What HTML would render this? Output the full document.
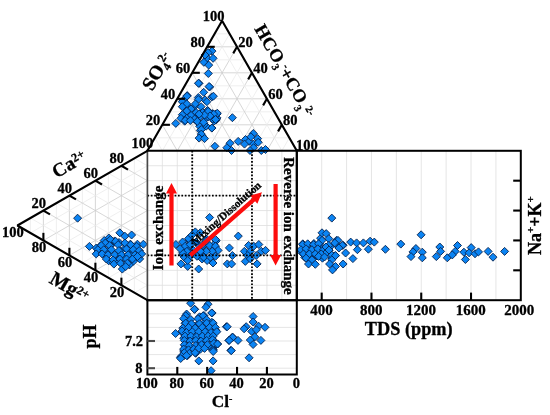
<!DOCTYPE html>
<html lang="en">
<head>
<meta charset="utf-8">
<title>Durov diagram</title>
<style>
html,body{margin:0;padding:0;background:#fff;}
body{width:550px;height:415px;overflow:hidden;}
svg{display:block;}
svg text{font-family:"Liberation Serif","Times New Roman",serif;font-weight:bold;fill:#000;stroke:#000;stroke-width:0.3px;}
</style>
</head>
<body>
<svg width="550" height="415" viewBox="0 0 550 415">
<rect x="0" y="0" width="550" height="415" fill="#fff"/>
<g id="grid">
<line x1="162.34" y1="150.80" x2="162.34" y2="300.20" stroke="#dedede" stroke-width="0.8" />
<line x1="147.40" y1="165.74" x2="296.80" y2="165.74" stroke="#dedede" stroke-width="0.8" />
<line x1="177.28" y1="150.80" x2="177.28" y2="300.20" stroke="#dedede" stroke-width="0.8" />
<line x1="147.40" y1="180.68" x2="296.80" y2="180.68" stroke="#dedede" stroke-width="0.8" />
<line x1="192.22" y1="150.80" x2="192.22" y2="300.20" stroke="#dedede" stroke-width="0.8" />
<line x1="147.40" y1="195.62" x2="296.80" y2="195.62" stroke="#dedede" stroke-width="0.8" />
<line x1="207.16" y1="150.80" x2="207.16" y2="300.20" stroke="#dedede" stroke-width="0.8" />
<line x1="147.40" y1="210.56" x2="296.80" y2="210.56" stroke="#dedede" stroke-width="0.8" />
<line x1="222.10" y1="150.80" x2="222.10" y2="300.20" stroke="#dedede" stroke-width="0.8" />
<line x1="147.40" y1="225.50" x2="296.80" y2="225.50" stroke="#dedede" stroke-width="0.8" />
<line x1="237.04" y1="150.80" x2="237.04" y2="300.20" stroke="#dedede" stroke-width="0.8" />
<line x1="147.40" y1="240.44" x2="296.80" y2="240.44" stroke="#dedede" stroke-width="0.8" />
<line x1="251.98" y1="150.80" x2="251.98" y2="300.20" stroke="#dedede" stroke-width="0.8" />
<line x1="147.40" y1="255.38" x2="296.80" y2="255.38" stroke="#dedede" stroke-width="0.8" />
<line x1="266.92" y1="150.80" x2="266.92" y2="300.20" stroke="#dedede" stroke-width="0.8" />
<line x1="147.40" y1="270.32" x2="296.80" y2="270.32" stroke="#dedede" stroke-width="0.8" />
<line x1="281.86" y1="150.80" x2="281.86" y2="300.20" stroke="#dedede" stroke-width="0.8" />
<line x1="147.40" y1="285.26" x2="296.80" y2="285.26" stroke="#dedede" stroke-width="0.8" />
<line x1="321.69" y1="150.80" x2="321.69" y2="300.20" stroke="#dedede" stroke-width="0.8" />
<line x1="346.58" y1="150.80" x2="346.58" y2="300.20" stroke="#dedede" stroke-width="0.8" />
<line x1="371.47" y1="150.80" x2="371.47" y2="300.20" stroke="#dedede" stroke-width="0.8" />
<line x1="396.36" y1="150.80" x2="396.36" y2="300.20" stroke="#dedede" stroke-width="0.8" />
<line x1="421.24" y1="150.80" x2="421.24" y2="300.20" stroke="#dedede" stroke-width="0.8" />
<line x1="446.13" y1="150.80" x2="446.13" y2="300.20" stroke="#dedede" stroke-width="0.8" />
<line x1="471.02" y1="150.80" x2="471.02" y2="300.20" stroke="#dedede" stroke-width="0.8" />
<line x1="495.91" y1="150.80" x2="495.91" y2="300.20" stroke="#dedede" stroke-width="0.8" />
<line x1="147.40" y1="313.80" x2="296.80" y2="313.80" stroke="#dedede" stroke-width="0.8" />
<line x1="147.40" y1="327.40" x2="296.80" y2="327.40" stroke="#dedede" stroke-width="0.8" />
<line x1="147.40" y1="341.00" x2="296.80" y2="341.00" stroke="#dedede" stroke-width="0.8" />
<line x1="147.40" y1="354.60" x2="296.80" y2="354.60" stroke="#dedede" stroke-width="0.8" />
<line x1="147.40" y1="368.20" x2="296.80" y2="368.20" stroke="#dedede" stroke-width="0.8" />
<line x1="154.87" y1="137.80" x2="289.33" y2="137.80" stroke="#ebebeb" stroke-width="0.8" />
<line x1="162.34" y1="150.80" x2="229.57" y2="33.80" stroke="#ebebeb" stroke-width="0.8" />
<line x1="162.34" y1="150.80" x2="154.87" y2="137.80" stroke="#ebebeb" stroke-width="0.8" />
<line x1="162.34" y1="124.80" x2="281.86" y2="124.80" stroke="#cdcdcd" stroke-width="0.8" />
<line x1="177.28" y1="150.80" x2="237.04" y2="46.80" stroke="#cdcdcd" stroke-width="0.8" />
<line x1="177.28" y1="150.80" x2="162.34" y2="124.80" stroke="#cdcdcd" stroke-width="0.8" />
<line x1="169.81" y1="111.80" x2="274.39" y2="111.80" stroke="#ebebeb" stroke-width="0.8" />
<line x1="192.22" y1="150.80" x2="244.51" y2="59.80" stroke="#ebebeb" stroke-width="0.8" />
<line x1="192.22" y1="150.80" x2="169.81" y2="111.80" stroke="#ebebeb" stroke-width="0.8" />
<line x1="177.28" y1="98.80" x2="266.92" y2="98.80" stroke="#cdcdcd" stroke-width="0.8" />
<line x1="207.16" y1="150.80" x2="251.98" y2="72.80" stroke="#cdcdcd" stroke-width="0.8" />
<line x1="207.16" y1="150.80" x2="177.28" y2="98.80" stroke="#cdcdcd" stroke-width="0.8" />
<line x1="184.75" y1="85.80" x2="259.45" y2="85.80" stroke="#ebebeb" stroke-width="0.8" />
<line x1="222.10" y1="150.80" x2="259.45" y2="85.80" stroke="#ebebeb" stroke-width="0.8" />
<line x1="222.10" y1="150.80" x2="184.75" y2="85.80" stroke="#ebebeb" stroke-width="0.8" />
<line x1="192.22" y1="72.80" x2="251.98" y2="72.80" stroke="#cdcdcd" stroke-width="0.8" />
<line x1="237.04" y1="150.80" x2="266.92" y2="98.80" stroke="#cdcdcd" stroke-width="0.8" />
<line x1="237.04" y1="150.80" x2="192.22" y2="72.80" stroke="#cdcdcd" stroke-width="0.8" />
<line x1="199.69" y1="59.80" x2="244.51" y2="59.80" stroke="#ebebeb" stroke-width="0.8" />
<line x1="251.98" y1="150.80" x2="274.39" y2="111.80" stroke="#ebebeb" stroke-width="0.8" />
<line x1="251.98" y1="150.80" x2="199.69" y2="59.80" stroke="#ebebeb" stroke-width="0.8" />
<line x1="207.16" y1="46.80" x2="237.04" y2="46.80" stroke="#cdcdcd" stroke-width="0.8" />
<line x1="266.92" y1="150.80" x2="281.86" y2="124.80" stroke="#cdcdcd" stroke-width="0.8" />
<line x1="266.92" y1="150.80" x2="207.16" y2="46.80" stroke="#cdcdcd" stroke-width="0.8" />
<line x1="214.63" y1="33.80" x2="229.57" y2="33.80" stroke="#ebebeb" stroke-width="0.8" />
<line x1="281.86" y1="150.80" x2="289.33" y2="137.80" stroke="#ebebeb" stroke-width="0.8" />
<line x1="281.86" y1="150.80" x2="214.63" y2="33.80" stroke="#ebebeb" stroke-width="0.8" />
<line x1="134.40" y1="158.27" x2="134.40" y2="292.73" stroke="#ebebeb" stroke-width="0.8" />
<line x1="147.40" y1="165.74" x2="30.40" y2="232.97" stroke="#ebebeb" stroke-width="0.8" />
<line x1="147.40" y1="165.74" x2="134.40" y2="158.27" stroke="#ebebeb" stroke-width="0.8" />
<line x1="121.40" y1="165.74" x2="121.40" y2="285.26" stroke="#cdcdcd" stroke-width="0.8" />
<line x1="147.40" y1="180.68" x2="43.40" y2="240.44" stroke="#cdcdcd" stroke-width="0.8" />
<line x1="147.40" y1="180.68" x2="121.40" y2="165.74" stroke="#cdcdcd" stroke-width="0.8" />
<line x1="108.40" y1="173.21" x2="108.40" y2="277.79" stroke="#ebebeb" stroke-width="0.8" />
<line x1="147.40" y1="195.62" x2="56.40" y2="247.91" stroke="#ebebeb" stroke-width="0.8" />
<line x1="147.40" y1="195.62" x2="108.40" y2="173.21" stroke="#ebebeb" stroke-width="0.8" />
<line x1="95.40" y1="180.68" x2="95.40" y2="270.32" stroke="#cdcdcd" stroke-width="0.8" />
<line x1="147.40" y1="210.56" x2="69.40" y2="255.38" stroke="#cdcdcd" stroke-width="0.8" />
<line x1="147.40" y1="210.56" x2="95.40" y2="180.68" stroke="#cdcdcd" stroke-width="0.8" />
<line x1="82.40" y1="188.15" x2="82.40" y2="262.85" stroke="#ebebeb" stroke-width="0.8" />
<line x1="147.40" y1="225.50" x2="82.40" y2="262.85" stroke="#ebebeb" stroke-width="0.8" />
<line x1="147.40" y1="225.50" x2="82.40" y2="188.15" stroke="#ebebeb" stroke-width="0.8" />
<line x1="69.40" y1="195.62" x2="69.40" y2="255.38" stroke="#cdcdcd" stroke-width="0.8" />
<line x1="147.40" y1="240.44" x2="95.40" y2="270.32" stroke="#cdcdcd" stroke-width="0.8" />
<line x1="147.40" y1="240.44" x2="69.40" y2="195.62" stroke="#cdcdcd" stroke-width="0.8" />
<line x1="56.40" y1="203.09" x2="56.40" y2="247.91" stroke="#ebebeb" stroke-width="0.8" />
<line x1="147.40" y1="255.38" x2="108.40" y2="277.79" stroke="#ebebeb" stroke-width="0.8" />
<line x1="147.40" y1="255.38" x2="56.40" y2="203.09" stroke="#ebebeb" stroke-width="0.8" />
<line x1="43.40" y1="210.56" x2="43.40" y2="240.44" stroke="#cdcdcd" stroke-width="0.8" />
<line x1="147.40" y1="270.32" x2="121.40" y2="285.26" stroke="#cdcdcd" stroke-width="0.8" />
<line x1="147.40" y1="270.32" x2="43.40" y2="210.56" stroke="#cdcdcd" stroke-width="0.8" />
<line x1="30.40" y1="218.03" x2="30.40" y2="232.97" stroke="#ebebeb" stroke-width="0.8" />
<line x1="147.40" y1="285.26" x2="134.40" y2="292.73" stroke="#ebebeb" stroke-width="0.8" />
<line x1="147.40" y1="285.26" x2="30.40" y2="218.03" stroke="#ebebeb" stroke-width="0.8" />
</g>
<g id="points" fill="#0b84f3" stroke="#06224f" stroke-width="0.9" stroke-linejoin="miter">
<g id="pts-top">
<path d="M211.9 92.9l4.0 4.0l-4.0 4.0l-4.0 -4.0z"/>
<path d="M187.2 91.6l4.0 4.0l-4.0 4.0l-4.0 -4.0z"/>
<path d="M198.3 93.5l4.0 4.0l-4.0 4.0l-4.0 -4.0z"/>
<path d="M205.0 95.9l4.0 4.0l-4.0 4.0l-4.0 -4.0z"/>
<path d="M183.7 96.0l4.0 4.0l-4.0 4.0l-4.0 -4.0z"/>
<path d="M187.3 101.9l4.0 4.0l-4.0 4.0l-4.0 -4.0z"/>
<path d="M194.9 102.0l4.0 4.0l-4.0 4.0l-4.0 -4.0z"/>
<path d="M183.9 101.8l4.0 4.0l-4.0 4.0l-4.0 -4.0z"/>
<path d="M189.3 104.1l4.0 4.0l-4.0 4.0l-4.0 -4.0z"/>
<path d="M208.0 107.0l4.0 4.0l-4.0 4.0l-4.0 -4.0z"/>
<path d="M186.9 105.2l4.0 4.0l-4.0 4.0l-4.0 -4.0z"/>
<path d="M194.8 109.3l4.0 4.0l-4.0 4.0l-4.0 -4.0z"/>
<path d="M201.8 108.9l4.0 4.0l-4.0 4.0l-4.0 -4.0z"/>
<path d="M211.8 111.3l4.0 4.0l-4.0 4.0l-4.0 -4.0z"/>
<path d="M215.9 110.3l4.0 4.0l-4.0 4.0l-4.0 -4.0z"/>
<path d="M184.0 111.7l4.0 4.0l-4.0 4.0l-4.0 -4.0z"/>
<path d="M193.1 109.7l4.0 4.0l-4.0 4.0l-4.0 -4.0z"/>
<path d="M200.8 111.4l4.0 4.0l-4.0 4.0l-4.0 -4.0z"/>
<path d="M206.4 113.6l4.0 4.0l-4.0 4.0l-4.0 -4.0z"/>
<path d="M188.4 113.5l4.0 4.0l-4.0 4.0l-4.0 -4.0z"/>
<path d="M195.0 115.4l4.0 4.0l-4.0 4.0l-4.0 -4.0z"/>
<path d="M214.2 117.0l4.0 4.0l-4.0 4.0l-4.0 -4.0z"/>
<path d="M217.0 113.9l4.0 4.0l-4.0 4.0l-4.0 -4.0z"/>
<path d="M206.2 122.2l4.0 4.0l-4.0 4.0l-4.0 -4.0z"/>
<path d="M184.7 117.2l4.0 4.0l-4.0 4.0l-4.0 -4.0z"/>
<path d="M190.1 115.0l4.0 4.0l-4.0 4.0l-4.0 -4.0z"/>
<path d="M215.4 110.4l4.0 4.0l-4.0 4.0l-4.0 -4.0z"/>
<path d="M212.5 109.6l4.0 4.0l-4.0 4.0l-4.0 -4.0z"/>
<path d="M209.8 112.1l4.0 4.0l-4.0 4.0l-4.0 -4.0z"/>
<path d="M196.9 116.8l4.0 4.0l-4.0 4.0l-4.0 -4.0z"/>
<path d="M212.0 47.1l4.0 4.0l-4.0 4.0l-4.0 -4.0z"/>
<path d="M208.1 48.7l4.0 4.0l-4.0 4.0l-4.0 -4.0z"/>
<path d="M206.9 54.1l4.0 4.0l-4.0 4.0l-4.0 -4.0z"/>
<path d="M213.1 54.3l4.0 4.0l-4.0 4.0l-4.0 -4.0z"/>
<path d="M203.9 58.3l4.0 4.0l-4.0 4.0l-4.0 -4.0z"/>
<path d="M208.7 61.1l4.0 4.0l-4.0 4.0l-4.0 -4.0z"/>
<path d="M205.0 51.0l4.0 4.0l-4.0 4.0l-4.0 -4.0z"/>
<path d="M208.3 69.5l4.0 4.0l-4.0 4.0l-4.0 -4.0z"/>
<path d="M199.0 79.4l4.0 4.0l-4.0 4.0l-4.0 -4.0z"/>
<path d="M209.6 83.0l4.0 4.0l-4.0 4.0l-4.0 -4.0z"/>
<path d="M198.5 79.2l4.0 4.0l-4.0 4.0l-4.0 -4.0z"/>
<path d="M209.1 82.5l4.0 4.0l-4.0 4.0l-4.0 -4.0z"/>
<path d="M203.7 88.3l4.0 4.0l-4.0 4.0l-4.0 -4.0z"/>
<path d="M213.4 92.2l4.0 4.0l-4.0 4.0l-4.0 -4.0z"/>
<path d="M187.0 92.2l4.0 4.0l-4.0 4.0l-4.0 -4.0z"/>
<path d="M198.3 95.5l4.0 4.0l-4.0 4.0l-4.0 -4.0z"/>
<path d="M206.9 97.7l4.0 4.0l-4.0 4.0l-4.0 -4.0z"/>
<path d="M182.3 97.7l4.0 4.0l-4.0 4.0l-4.0 -4.0z"/>
<path d="M186.7 99.9l4.0 4.0l-4.0 4.0l-4.0 -4.0z"/>
<path d="M195.4 99.9l4.0 4.0l-4.0 4.0l-4.0 -4.0z"/>
<path d="M182.3 102.7l4.0 4.0l-4.0 4.0l-4.0 -4.0z"/>
<path d="M191.0 104.9l4.0 4.0l-4.0 4.0l-4.0 -4.0z"/>
<path d="M201.1 102.7l4.0 4.0l-4.0 4.0l-4.0 -4.0z"/>
<path d="M207.6 106.4l4.0 4.0l-4.0 4.0l-4.0 -4.0z"/>
<path d="M186.7 107.1l4.0 4.0l-4.0 4.0l-4.0 -4.0z"/>
<path d="M196.1 108.5l4.0 4.0l-4.0 4.0l-4.0 -4.0z"/>
<path d="M202.6 108.5l4.0 4.0l-4.0 4.0l-4.0 -4.0z"/>
<path d="M212.7 110.0l4.0 4.0l-4.0 4.0l-4.0 -4.0z"/>
<path d="M217.0 110.0l4.0 4.0l-4.0 4.0l-4.0 -4.0z"/>
<path d="M182.3 110.7l4.0 4.0l-4.0 4.0l-4.0 -4.0z"/>
<path d="M191.0 111.4l4.0 4.0l-4.0 4.0l-4.0 -4.0z"/>
<path d="M199.7 112.9l4.0 4.0l-4.0 4.0l-4.0 -4.0z"/>
<path d="M208.4 112.9l4.0 4.0l-4.0 4.0l-4.0 -4.0z"/>
<path d="M180.9 114.3l4.0 4.0l-4.0 4.0l-4.0 -4.0z"/>
<path d="M186.7 114.3l4.0 4.0l-4.0 4.0l-4.0 -4.0z"/>
<path d="M194.6 115.0l4.0 4.0l-4.0 4.0l-4.0 -4.0z"/>
<path d="M212.7 115.0l4.0 4.0l-4.0 4.0l-4.0 -4.0z"/>
<path d="M216.3 115.8l4.0 4.0l-4.0 4.0l-4.0 -4.0z"/>
<path d="M175.8 119.4l4.0 4.0l-4.0 4.0l-4.0 -4.0z"/>
<path d="M197.5 117.9l4.0 4.0l-4.0 4.0l-4.0 -4.0z"/>
<path d="M204.0 120.8l4.0 4.0l-4.0 4.0l-4.0 -4.0z"/>
<path d="M199.7 122.3l4.0 4.0l-4.0 4.0l-4.0 -4.0z"/>
<path d="M212.0 124.0l4.0 4.0l-4.0 4.0l-4.0 -4.0z"/>
<path d="M200.4 126.6l4.0 4.0l-4.0 4.0l-4.0 -4.0z"/>
<path d="M201.9 131.7l4.0 4.0l-4.0 4.0l-4.0 -4.0z"/>
<path d="M185.2 116.5l4.0 4.0l-4.0 4.0l-4.0 -4.0z"/>
<path d="M190.3 116.5l4.0 4.0l-4.0 4.0l-4.0 -4.0z"/>
<path d="M232.4 113.7l4.0 4.0l-4.0 4.0l-4.0 -4.0z"/>
<path d="M211.8 124.1l4.0 4.0l-4.0 4.0l-4.0 -4.0z"/>
<path d="M201.3 125.5l4.0 4.0l-4.0 4.0l-4.0 -4.0z"/>
<path d="M201.3 130.1l4.0 4.0l-4.0 4.0l-4.0 -4.0z"/>
<path d="M199.1 134.1l4.0 4.0l-4.0 4.0l-4.0 -4.0z"/>
<path d="M204.5 134.6l4.0 4.0l-4.0 4.0l-4.0 -4.0z"/>
<path d="M214.9 142.3l4.0 4.0l-4.0 4.0l-4.0 -4.0z"/>
<path d="M230.0 139.2l4.0 4.0l-4.0 4.0l-4.0 -4.0z"/>
<path d="M226.9 143.7l4.0 4.0l-4.0 4.0l-4.0 -4.0z"/>
<path d="M231.5 146.5l4.0 4.0l-4.0 4.0l-4.0 -4.0z"/>
<path d="M238.2 137.4l4.0 4.0l-4.0 4.0l-4.0 -4.0z"/>
<path d="M245.5 135.5l4.0 4.0l-4.0 4.0l-4.0 -4.0z"/>
<path d="M249.1 137.4l4.0 4.0l-4.0 4.0l-4.0 -4.0z"/>
<path d="M244.5 140.1l4.0 4.0l-4.0 4.0l-4.0 -4.0z"/>
<path d="M253.3 129.5l4.0 4.0l-4.0 4.0l-4.0 -4.0z"/>
<path d="M250.9 132.8l4.0 4.0l-4.0 4.0l-4.0 -4.0z"/>
<path d="M257.6 134.6l4.0 4.0l-4.0 4.0l-4.0 -4.0z"/>
<path d="M253.6 140.1l4.0 4.0l-4.0 4.0l-4.0 -4.0z"/>
<path d="M258.2 138.3l4.0 4.0l-4.0 4.0l-4.0 -4.0z"/>
<path d="M253.6 143.7l4.0 4.0l-4.0 4.0l-4.0 -4.0z"/>
<path d="M250.0 146.5l4.0 4.0l-4.0 4.0l-4.0 -4.0z"/>
<path d="M261.3 146.5l4.0 4.0l-4.0 4.0l-4.0 -4.0z"/>
<path d="M265.5 145.5l4.0 4.0l-4.0 4.0l-4.0 -4.0z"/>
<path d="M217.3 109.2l4.0 4.0l-4.0 4.0l-4.0 -4.0z"/>
<path d="M213.6 110.1l4.0 4.0l-4.0 4.0l-4.0 -4.0z"/>
<path d="M208.2 107.4l4.0 4.0l-4.0 4.0l-4.0 -4.0z"/>
<path d="M210.0 111.9l4.0 4.0l-4.0 4.0l-4.0 -4.0z"/>
<path d="M215.5 115.5l4.0 4.0l-4.0 4.0l-4.0 -4.0z"/>
<path d="M204.5 111.0l4.0 4.0l-4.0 4.0l-4.0 -4.0z"/>
<path d="M199.1 110.1l4.0 4.0l-4.0 4.0l-4.0 -4.0z"/>
<path d="M197.3 117.4l4.0 4.0l-4.0 4.0l-4.0 -4.0z"/>
<path d="M203.6 118.3l4.0 4.0l-4.0 4.0l-4.0 -4.0z"/>
</g>
<g id="pts-left">
<path d="M108.8 234.0l4.0 4.0l-4.0 4.0l-4.0 -4.0z"/>
<path d="M114.3 237.2l4.0 4.0l-4.0 4.0l-4.0 -4.0z"/>
<path d="M104.2 236.5l4.0 4.0l-4.0 4.0l-4.0 -4.0z"/>
<path d="M100.5 241.8l4.0 4.0l-4.0 4.0l-4.0 -4.0z"/>
<path d="M110.7 241.6l4.0 4.0l-4.0 4.0l-4.0 -4.0z"/>
<path d="M119.0 238.5l4.0 4.0l-4.0 4.0l-4.0 -4.0z"/>
<path d="M126.3 240.9l4.0 4.0l-4.0 4.0l-4.0 -4.0z"/>
<path d="M130.3 240.2l4.0 4.0l-4.0 4.0l-4.0 -4.0z"/>
<path d="M137.4 240.2l4.0 4.0l-4.0 4.0l-4.0 -4.0z"/>
<path d="M96.3 244.0l4.0 4.0l-4.0 4.0l-4.0 -4.0z"/>
<path d="M101.6 243.2l4.0 4.0l-4.0 4.0l-4.0 -4.0z"/>
<path d="M109.4 245.0l4.0 4.0l-4.0 4.0l-4.0 -4.0z"/>
<path d="M120.8 247.2l4.0 4.0l-4.0 4.0l-4.0 -4.0z"/>
<path d="M125.3 244.1l4.0 4.0l-4.0 4.0l-4.0 -4.0z"/>
<path d="M131.4 247.4l4.0 4.0l-4.0 4.0l-4.0 -4.0z"/>
<path d="M139.0 246.5l4.0 4.0l-4.0 4.0l-4.0 -4.0z"/>
<path d="M139.7 249.1l4.0 4.0l-4.0 4.0l-4.0 -4.0z"/>
<path d="M97.8 248.2l4.0 4.0l-4.0 4.0l-4.0 -4.0z"/>
<path d="M104.4 250.0l4.0 4.0l-4.0 4.0l-4.0 -4.0z"/>
<path d="M108.2 248.4l4.0 4.0l-4.0 4.0l-4.0 -4.0z"/>
<path d="M117.1 252.6l4.0 4.0l-4.0 4.0l-4.0 -4.0z"/>
<path d="M120.3 250.1l4.0 4.0l-4.0 4.0l-4.0 -4.0z"/>
<path d="M129.6 251.0l4.0 4.0l-4.0 4.0l-4.0 -4.0z"/>
<path d="M134.1 249.4l4.0 4.0l-4.0 4.0l-4.0 -4.0z"/>
<path d="M108.7 256.8l4.0 4.0l-4.0 4.0l-4.0 -4.0z"/>
<path d="M114.6 257.1l4.0 4.0l-4.0 4.0l-4.0 -4.0z"/>
<path d="M119.9 254.3l4.0 4.0l-4.0 4.0l-4.0 -4.0z"/>
<path d="M124.1 253.9l4.0 4.0l-4.0 4.0l-4.0 -4.0z"/>
<path d="M133.4 257.3l4.0 4.0l-4.0 4.0l-4.0 -4.0z"/>
<path d="M139.7 254.9l4.0 4.0l-4.0 4.0l-4.0 -4.0z"/>
<path d="M113.2 258.7l4.0 4.0l-4.0 4.0l-4.0 -4.0z"/>
<path d="M119.1 257.7l4.0 4.0l-4.0 4.0l-4.0 -4.0z"/>
<path d="M129.4 260.9l4.0 4.0l-4.0 4.0l-4.0 -4.0z"/>
<path d="M77.6 214.2l4.0 4.0l-4.0 4.0l-4.0 -4.0z"/>
<path d="M89.4 242.4l4.0 4.0l-4.0 4.0l-4.0 -4.0z"/>
<path d="M119.8 228.8l4.0 4.0l-4.0 4.0l-4.0 -4.0z"/>
<path d="M124.9 232.2l4.0 4.0l-4.0 4.0l-4.0 -4.0z"/>
<path d="M131.6 231.0l4.0 4.0l-4.0 4.0l-4.0 -4.0z"/>
<path d="M143.4 240.2l4.0 4.0l-4.0 4.0l-4.0 -4.0z"/>
<path d="M110.5 235.6l4.0 4.0l-4.0 4.0l-4.0 -4.0z"/>
<path d="M115.6 237.3l4.0 4.0l-4.0 4.0l-4.0 -4.0z"/>
<path d="M105.4 239.0l4.0 4.0l-4.0 4.0l-4.0 -4.0z"/>
<path d="M101.2 241.5l4.0 4.0l-4.0 4.0l-4.0 -4.0z"/>
<path d="M109.7 241.5l4.0 4.0l-4.0 4.0l-4.0 -4.0z"/>
<path d="M118.1 240.7l4.0 4.0l-4.0 4.0l-4.0 -4.0z"/>
<path d="M124.9 239.0l4.0 4.0l-4.0 4.0l-4.0 -4.0z"/>
<path d="M130.8 240.7l4.0 4.0l-4.0 4.0l-4.0 -4.0z"/>
<path d="M136.7 242.4l4.0 4.0l-4.0 4.0l-4.0 -4.0z"/>
<path d="M97.8 245.7l4.0 4.0l-4.0 4.0l-4.0 -4.0z"/>
<path d="M103.8 245.7l4.0 4.0l-4.0 4.0l-4.0 -4.0z"/>
<path d="M111.4 245.7l4.0 4.0l-4.0 4.0l-4.0 -4.0z"/>
<path d="M118.9 246.6l4.0 4.0l-4.0 4.0l-4.0 -4.0z"/>
<path d="M126.5 244.9l4.0 4.0l-4.0 4.0l-4.0 -4.0z"/>
<path d="M133.3 245.7l4.0 4.0l-4.0 4.0l-4.0 -4.0z"/>
<path d="M139.2 246.6l4.0 4.0l-4.0 4.0l-4.0 -4.0z"/>
<path d="M141.7 249.9l4.0 4.0l-4.0 4.0l-4.0 -4.0z"/>
<path d="M96.2 249.9l4.0 4.0l-4.0 4.0l-4.0 -4.0z"/>
<path d="M102.1 249.9l4.0 4.0l-4.0 4.0l-4.0 -4.0z"/>
<path d="M108.0 250.8l4.0 4.0l-4.0 4.0l-4.0 -4.0z"/>
<path d="M114.7 250.8l4.0 4.0l-4.0 4.0l-4.0 -4.0z"/>
<path d="M121.5 250.8l4.0 4.0l-4.0 4.0l-4.0 -4.0z"/>
<path d="M128.2 250.8l4.0 4.0l-4.0 4.0l-4.0 -4.0z"/>
<path d="M135.0 250.8l4.0 4.0l-4.0 4.0l-4.0 -4.0z"/>
<path d="M106.3 255.0l4.0 4.0l-4.0 4.0l-4.0 -4.0z"/>
<path d="M113.0 255.9l4.0 4.0l-4.0 4.0l-4.0 -4.0z"/>
<path d="M119.8 255.0l4.0 4.0l-4.0 4.0l-4.0 -4.0z"/>
<path d="M126.5 255.0l4.0 4.0l-4.0 4.0l-4.0 -4.0z"/>
<path d="M132.4 255.0l4.0 4.0l-4.0 4.0l-4.0 -4.0z"/>
<path d="M137.5 252.5l4.0 4.0l-4.0 4.0l-4.0 -4.0z"/>
<path d="M113.9 260.1l4.0 4.0l-4.0 4.0l-4.0 -4.0z"/>
<path d="M120.6 259.2l4.0 4.0l-4.0 4.0l-4.0 -4.0z"/>
<path d="M127.4 259.2l4.0 4.0l-4.0 4.0l-4.0 -4.0z"/>
<path d="M122.3 265.1l4.0 4.0l-4.0 4.0l-4.0 -4.0z"/>
<path d="M125.7 262.6l4.0 4.0l-4.0 4.0l-4.0 -4.0z"/>
</g>
<g id="pts-sq">
<path d="M216.2 236.8l4.0 4.0l-4.0 4.0l-4.0 -4.0z"/>
<path d="M189.2 236.4l4.0 4.0l-4.0 4.0l-4.0 -4.0z"/>
<path d="M188.8 241.8l4.0 4.0l-4.0 4.0l-4.0 -4.0z"/>
<path d="M197.4 240.1l4.0 4.0l-4.0 4.0l-4.0 -4.0z"/>
<path d="M202.5 242.5l4.0 4.0l-4.0 4.0l-4.0 -4.0z"/>
<path d="M213.9 240.7l4.0 4.0l-4.0 4.0l-4.0 -4.0z"/>
<path d="M201.8 249.4l4.0 4.0l-4.0 4.0l-4.0 -4.0z"/>
<path d="M192.9 246.6l4.0 4.0l-4.0 4.0l-4.0 -4.0z"/>
<path d="M184.8 249.4l4.0 4.0l-4.0 4.0l-4.0 -4.0z"/>
<path d="M182.7 250.8l4.0 4.0l-4.0 4.0l-4.0 -4.0z"/>
<path d="M185.9 254.6l4.0 4.0l-4.0 4.0l-4.0 -4.0z"/>
<path d="M189.1 251.4l4.0 4.0l-4.0 4.0l-4.0 -4.0z"/>
<path d="M197.4 251.2l4.0 4.0l-4.0 4.0l-4.0 -4.0z"/>
<path d="M202.1 255.0l4.0 4.0l-4.0 4.0l-4.0 -4.0z"/>
<path d="M210.3 253.6l4.0 4.0l-4.0 4.0l-4.0 -4.0z"/>
<path d="M181.9 244.7l4.0 4.0l-4.0 4.0l-4.0 -4.0z"/>
<path d="M206.4 235.0l4.0 4.0l-4.0 4.0l-4.0 -4.0z"/>
<path d="M209.6 213.5l4.0 4.0l-4.0 4.0l-4.0 -4.0z"/>
<path d="M238.3 232.1l4.0 4.0l-4.0 4.0l-4.0 -4.0z"/>
<path d="M229.4 243.9l4.0 4.0l-4.0 4.0l-4.0 -4.0z"/>
<path d="M232.4 251.5l4.0 4.0l-4.0 4.0l-4.0 -4.0z"/>
<path d="M227.3 259.9l4.0 4.0l-4.0 4.0l-4.0 -4.0z"/>
<path d="M231.6 259.9l4.0 4.0l-4.0 4.0l-4.0 -4.0z"/>
<path d="M175.9 240.5l4.0 4.0l-4.0 4.0l-4.0 -4.0z"/>
<path d="M181.0 259.9l4.0 4.0l-4.0 4.0l-4.0 -4.0z"/>
<path d="M187.7 262.4l4.0 4.0l-4.0 4.0l-4.0 -4.0z"/>
<path d="M198.7 265.0l4.0 4.0l-4.0 4.0l-4.0 -4.0z"/>
<path d="M213.0 259.0l4.0 4.0l-4.0 4.0l-4.0 -4.0z"/>
<path d="M207.1 256.5l4.0 4.0l-4.0 4.0l-4.0 -4.0z"/>
<path d="M215.5 235.5l4.0 4.0l-4.0 4.0l-4.0 -4.0z"/>
<path d="M195.3 227.9l4.0 4.0l-4.0 4.0l-4.0 -4.0z"/>
<path d="M200.4 228.7l4.0 4.0l-4.0 4.0l-4.0 -4.0z"/>
<path d="M188.5 234.6l4.0 4.0l-4.0 4.0l-4.0 -4.0z"/>
<path d="M182.6 238.0l4.0 4.0l-4.0 4.0l-4.0 -4.0z"/>
<path d="M185.2 242.2l4.0 4.0l-4.0 4.0l-4.0 -4.0z"/>
<path d="M190.2 240.5l4.0 4.0l-4.0 4.0l-4.0 -4.0z"/>
<path d="M196.1 238.0l4.0 4.0l-4.0 4.0l-4.0 -4.0z"/>
<path d="M202.9 240.5l4.0 4.0l-4.0 4.0l-4.0 -4.0z"/>
<path d="M209.6 241.4l4.0 4.0l-4.0 4.0l-4.0 -4.0z"/>
<path d="M215.5 242.2l4.0 4.0l-4.0 4.0l-4.0 -4.0z"/>
<path d="M218.1 246.4l4.0 4.0l-4.0 4.0l-4.0 -4.0z"/>
<path d="M212.2 247.3l4.0 4.0l-4.0 4.0l-4.0 -4.0z"/>
<path d="M206.3 247.3l4.0 4.0l-4.0 4.0l-4.0 -4.0z"/>
<path d="M200.4 247.3l4.0 4.0l-4.0 4.0l-4.0 -4.0z"/>
<path d="M193.6 246.4l4.0 4.0l-4.0 4.0l-4.0 -4.0z"/>
<path d="M186.9 247.3l4.0 4.0l-4.0 4.0l-4.0 -4.0z"/>
<path d="M182.6 248.9l4.0 4.0l-4.0 4.0l-4.0 -4.0z"/>
<path d="M184.3 253.2l4.0 4.0l-4.0 4.0l-4.0 -4.0z"/>
<path d="M190.2 252.3l4.0 4.0l-4.0 4.0l-4.0 -4.0z"/>
<path d="M197.0 252.3l4.0 4.0l-4.0 4.0l-4.0 -4.0z"/>
<path d="M203.7 253.2l4.0 4.0l-4.0 4.0l-4.0 -4.0z"/>
<path d="M210.5 253.2l4.0 4.0l-4.0 4.0l-4.0 -4.0z"/>
<path d="M215.5 252.3l4.0 4.0l-4.0 4.0l-4.0 -4.0z"/>
<path d="M187.7 256.5l4.0 4.0l-4.0 4.0l-4.0 -4.0z"/>
<path d="M180.1 244.7l4.0 4.0l-4.0 4.0l-4.0 -4.0z"/>
<path d="M191.9 231.2l4.0 4.0l-4.0 4.0l-4.0 -4.0z"/>
<path d="M206.3 237.1l4.0 4.0l-4.0 4.0l-4.0 -4.0z"/>
<path d="M248.6 241.4l4.0 4.0l-4.0 4.0l-4.0 -4.0z"/>
<path d="M253.7 242.2l4.0 4.0l-4.0 4.0l-4.0 -4.0z"/>
<path d="M258.8 240.5l4.0 4.0l-4.0 4.0l-4.0 -4.0z"/>
<path d="M244.4 247.3l4.0 4.0l-4.0 4.0l-4.0 -4.0z"/>
<path d="M250.3 247.3l4.0 4.0l-4.0 4.0l-4.0 -4.0z"/>
<path d="M261.3 247.3l4.0 4.0l-4.0 4.0l-4.0 -4.0z"/>
<path d="M265.5 246.4l4.0 4.0l-4.0 4.0l-4.0 -4.0z"/>
<path d="M247.8 251.5l4.0 4.0l-4.0 4.0l-4.0 -4.0z"/>
<path d="M256.2 251.5l4.0 4.0l-4.0 4.0l-4.0 -4.0z"/>
<path d="M245.3 257.4l4.0 4.0l-4.0 4.0l-4.0 -4.0z"/>
<path d="M250.3 254.9l4.0 4.0l-4.0 4.0l-4.0 -4.0z"/>
<path d="M257.1 259.9l4.0 4.0l-4.0 4.0l-4.0 -4.0z"/>
</g>
<g id="pts-right">
<path d="M320.6 234.2l4.0 4.0l-4.0 4.0l-4.0 -4.0z"/>
<path d="M336.6 236.3l4.0 4.0l-4.0 4.0l-4.0 -4.0z"/>
<path d="M302.8 239.8l4.0 4.0l-4.0 4.0l-4.0 -4.0z"/>
<path d="M307.9 241.1l4.0 4.0l-4.0 4.0l-4.0 -4.0z"/>
<path d="M313.9 239.5l4.0 4.0l-4.0 4.0l-4.0 -4.0z"/>
<path d="M319.8 239.8l4.0 4.0l-4.0 4.0l-4.0 -4.0z"/>
<path d="M329.9 243.2l4.0 4.0l-4.0 4.0l-4.0 -4.0z"/>
<path d="M335.2 238.9l4.0 4.0l-4.0 4.0l-4.0 -4.0z"/>
<path d="M343.1 241.2l4.0 4.0l-4.0 4.0l-4.0 -4.0z"/>
<path d="M300.8 247.6l4.0 4.0l-4.0 4.0l-4.0 -4.0z"/>
<path d="M307.7 246.7l4.0 4.0l-4.0 4.0l-4.0 -4.0z"/>
<path d="M312.2 247.7l4.0 4.0l-4.0 4.0l-4.0 -4.0z"/>
<path d="M322.0 245.4l4.0 4.0l-4.0 4.0l-4.0 -4.0z"/>
<path d="M337.8 242.1l4.0 4.0l-4.0 4.0l-4.0 -4.0z"/>
<path d="M304.6 251.6l4.0 4.0l-4.0 4.0l-4.0 -4.0z"/>
<path d="M310.3 250.6l4.0 4.0l-4.0 4.0l-4.0 -4.0z"/>
<path d="M317.0 252.0l4.0 4.0l-4.0 4.0l-4.0 -4.0z"/>
<path d="M323.2 249.5l4.0 4.0l-4.0 4.0l-4.0 -4.0z"/>
<path d="M333.5 252.2l4.0 4.0l-4.0 4.0l-4.0 -4.0z"/>
<path d="M335.2 251.7l4.0 4.0l-4.0 4.0l-4.0 -4.0z"/>
<path d="M304.7 253.3l4.0 4.0l-4.0 4.0l-4.0 -4.0z"/>
<path d="M309.8 256.0l4.0 4.0l-4.0 4.0l-4.0 -4.0z"/>
<path d="M316.5 251.7l4.0 4.0l-4.0 4.0l-4.0 -4.0z"/>
<path d="M331.9 253.9l4.0 4.0l-4.0 4.0l-4.0 -4.0z"/>
<path d="M329.1 246.3l4.0 4.0l-4.0 4.0l-4.0 -4.0z"/>
<path d="M322.5 254.2l4.0 4.0l-4.0 4.0l-4.0 -4.0z"/>
<path d="M327.4 245.7l4.0 4.0l-4.0 4.0l-4.0 -4.0z"/>
<path d="M331.8 214.1l4.0 4.0l-4.0 4.0l-4.0 -4.0z"/>
<path d="M322.0 228.8l4.0 4.0l-4.0 4.0l-4.0 -4.0z"/>
<path d="M326.2 229.6l4.0 4.0l-4.0 4.0l-4.0 -4.0z"/>
<path d="M328.8 234.7l4.0 4.0l-4.0 4.0l-4.0 -4.0z"/>
<path d="M322.0 236.4l4.0 4.0l-4.0 4.0l-4.0 -4.0z"/>
<path d="M338.0 236.4l4.0 4.0l-4.0 4.0l-4.0 -4.0z"/>
<path d="M350.7 238.1l4.0 4.0l-4.0 4.0l-4.0 -4.0z"/>
<path d="M356.6 238.9l4.0 4.0l-4.0 4.0l-4.0 -4.0z"/>
<path d="M363.4 238.9l4.0 4.0l-4.0 4.0l-4.0 -4.0z"/>
<path d="M370.1 237.2l4.0 4.0l-4.0 4.0l-4.0 -4.0z"/>
<path d="M374.3 238.1l4.0 4.0l-4.0 4.0l-4.0 -4.0z"/>
<path d="M302.6 240.6l4.0 4.0l-4.0 4.0l-4.0 -4.0z"/>
<path d="M307.7 239.8l4.0 4.0l-4.0 4.0l-4.0 -4.0z"/>
<path d="M313.6 240.6l4.0 4.0l-4.0 4.0l-4.0 -4.0z"/>
<path d="M318.6 239.8l4.0 4.0l-4.0 4.0l-4.0 -4.0z"/>
<path d="M328.8 241.4l4.0 4.0l-4.0 4.0l-4.0 -4.0z"/>
<path d="M334.7 238.9l4.0 4.0l-4.0 4.0l-4.0 -4.0z"/>
<path d="M342.3 241.4l4.0 4.0l-4.0 4.0l-4.0 -4.0z"/>
<path d="M300.9 245.7l4.0 4.0l-4.0 4.0l-4.0 -4.0z"/>
<path d="M306.0 244.8l4.0 4.0l-4.0 4.0l-4.0 -4.0z"/>
<path d="M311.9 245.7l4.0 4.0l-4.0 4.0l-4.0 -4.0z"/>
<path d="M317.8 244.8l4.0 4.0l-4.0 4.0l-4.0 -4.0z"/>
<path d="M323.7 245.7l4.0 4.0l-4.0 4.0l-4.0 -4.0z"/>
<path d="M338.9 244.0l4.0 4.0l-4.0 4.0l-4.0 -4.0z"/>
<path d="M345.6 249.0l4.0 4.0l-4.0 4.0l-4.0 -4.0z"/>
<path d="M357.4 245.7l4.0 4.0l-4.0 4.0l-4.0 -4.0z"/>
<path d="M368.4 245.2l4.0 4.0l-4.0 4.0l-4.0 -4.0z"/>
<path d="M303.4 249.9l4.0 4.0l-4.0 4.0l-4.0 -4.0z"/>
<path d="M309.3 249.9l4.0 4.0l-4.0 4.0l-4.0 -4.0z"/>
<path d="M315.3 249.9l4.0 4.0l-4.0 4.0l-4.0 -4.0z"/>
<path d="M321.2 249.9l4.0 4.0l-4.0 4.0l-4.0 -4.0z"/>
<path d="M331.3 250.7l4.0 4.0l-4.0 4.0l-4.0 -4.0z"/>
<path d="M335.5 251.6l4.0 4.0l-4.0 4.0l-4.0 -4.0z"/>
<path d="M306.0 254.1l4.0 4.0l-4.0 4.0l-4.0 -4.0z"/>
<path d="M311.9 255.8l4.0 4.0l-4.0 4.0l-4.0 -4.0z"/>
<path d="M318.6 252.4l4.0 4.0l-4.0 4.0l-4.0 -4.0z"/>
<path d="M308.5 260.0l4.0 4.0l-4.0 4.0l-4.0 -4.0z"/>
<path d="M315.3 260.3l4.0 4.0l-4.0 4.0l-4.0 -4.0z"/>
<path d="M331.8 255.8l4.0 4.0l-4.0 4.0l-4.0 -4.0z"/>
<path d="M329.6 260.0l4.0 4.0l-4.0 4.0l-4.0 -4.0z"/>
<path d="M335.5 262.5l4.0 4.0l-4.0 4.0l-4.0 -4.0z"/>
<path d="M332.5 265.9l4.0 4.0l-4.0 4.0l-4.0 -4.0z"/>
<path d="M343.1 260.0l4.0 4.0l-4.0 4.0l-4.0 -4.0z"/>
<path d="M352.9 254.6l4.0 4.0l-4.0 4.0l-4.0 -4.0z"/>
<path d="M385.4 245.3l4.0 4.0l-4.0 4.0l-4.0 -4.0z"/>
<path d="M400.8 240.1l4.0 4.0l-4.0 4.0l-4.0 -4.0z"/>
<path d="M421.1 230.8l4.0 4.0l-4.0 4.0l-4.0 -4.0z"/>
<path d="M415.9 244.5l4.0 4.0l-4.0 4.0l-4.0 -4.0z"/>
<path d="M413.0 247.9l4.0 4.0l-4.0 4.0l-4.0 -4.0z"/>
<path d="M411.0 252.6l4.0 4.0l-4.0 4.0l-4.0 -4.0z"/>
<path d="M422.3 248.2l4.0 4.0l-4.0 4.0l-4.0 -4.0z"/>
<path d="M422.3 253.8l4.0 4.0l-4.0 4.0l-4.0 -4.0z"/>
<path d="M439.8 243.0l4.0 4.0l-4.0 4.0l-4.0 -4.0z"/>
<path d="M440.6 247.4l4.0 4.0l-4.0 4.0l-4.0 -4.0z"/>
<path d="M436.3 252.6l4.0 4.0l-4.0 4.0l-4.0 -4.0z"/>
<path d="M447.3 253.8l4.0 4.0l-4.0 4.0l-4.0 -4.0z"/>
<path d="M457.5 241.5l4.0 4.0l-4.0 4.0l-4.0 -4.0z"/>
<path d="M455.2 247.4l4.0 4.0l-4.0 4.0l-4.0 -4.0z"/>
<path d="M452.3 250.9l4.0 4.0l-4.0 4.0l-4.0 -4.0z"/>
<path d="M463.9 248.2l4.0 4.0l-4.0 4.0l-4.0 -4.0z"/>
<path d="M465.4 255.5l4.0 4.0l-4.0 4.0l-4.0 -4.0z"/>
<path d="M471.2 243.6l4.0 4.0l-4.0 4.0l-4.0 -4.0z"/>
<path d="M469.1 248.8l4.0 4.0l-4.0 4.0l-4.0 -4.0z"/>
<path d="M475.0 249.7l4.0 4.0l-4.0 4.0l-4.0 -4.0z"/>
<path d="M478.5 247.9l4.0 4.0l-4.0 4.0l-4.0 -4.0z"/>
<path d="M488.1 247.4l4.0 4.0l-4.0 4.0l-4.0 -4.0z"/>
<path d="M493.0 253.2l4.0 4.0l-4.0 4.0l-4.0 -4.0z"/>
<path d="M504.6 247.4l4.0 4.0l-4.0 4.0l-4.0 -4.0z"/>
<path d="M326.0 243.0l4.0 4.0l-4.0 4.0l-4.0 -4.0z"/>
<path d="M327.0 248.0l4.0 4.0l-4.0 4.0l-4.0 -4.0z"/>
<path d="M324.5 253.0l4.0 4.0l-4.0 4.0l-4.0 -4.0z"/>
<path d="M329.0 246.0l4.0 4.0l-4.0 4.0l-4.0 -4.0z"/>
</g>
<g id="pts-bottom">
<path d="M214.7 341.9l4.0 4.0l-4.0 4.0l-4.0 -4.0z"/>
<path d="M186.6 310.0l4.0 4.0l-4.0 4.0l-4.0 -4.0z"/>
<path d="M203.9 311.5l4.0 4.0l-4.0 4.0l-4.0 -4.0z"/>
<path d="M185.5 315.3l4.0 4.0l-4.0 4.0l-4.0 -4.0z"/>
<path d="M199.6 312.8l4.0 4.0l-4.0 4.0l-4.0 -4.0z"/>
<path d="M185.0 319.3l4.0 4.0l-4.0 4.0l-4.0 -4.0z"/>
<path d="M197.9 319.9l4.0 4.0l-4.0 4.0l-4.0 -4.0z"/>
<path d="M205.0 317.6l4.0 4.0l-4.0 4.0l-4.0 -4.0z"/>
<path d="M211.9 318.3l4.0 4.0l-4.0 4.0l-4.0 -4.0z"/>
<path d="M183.9 323.2l4.0 4.0l-4.0 4.0l-4.0 -4.0z"/>
<path d="M187.2 322.7l4.0 4.0l-4.0 4.0l-4.0 -4.0z"/>
<path d="M194.0 322.0l4.0 4.0l-4.0 4.0l-4.0 -4.0z"/>
<path d="M202.5 322.0l4.0 4.0l-4.0 4.0l-4.0 -4.0z"/>
<path d="M211.5 321.7l4.0 4.0l-4.0 4.0l-4.0 -4.0z"/>
<path d="M182.1 328.5l4.0 4.0l-4.0 4.0l-4.0 -4.0z"/>
<path d="M186.5 329.3l4.0 4.0l-4.0 4.0l-4.0 -4.0z"/>
<path d="M200.2 328.6l4.0 4.0l-4.0 4.0l-4.0 -4.0z"/>
<path d="M204.8 327.0l4.0 4.0l-4.0 4.0l-4.0 -4.0z"/>
<path d="M209.4 326.6l4.0 4.0l-4.0 4.0l-4.0 -4.0z"/>
<path d="M215.7 326.2l4.0 4.0l-4.0 4.0l-4.0 -4.0z"/>
<path d="M186.5 333.7l4.0 4.0l-4.0 4.0l-4.0 -4.0z"/>
<path d="M189.8 331.0l4.0 4.0l-4.0 4.0l-4.0 -4.0z"/>
<path d="M196.4 331.3l4.0 4.0l-4.0 4.0l-4.0 -4.0z"/>
<path d="M201.3 334.1l4.0 4.0l-4.0 4.0l-4.0 -4.0z"/>
<path d="M212.1 334.1l4.0 4.0l-4.0 4.0l-4.0 -4.0z"/>
<path d="M183.7 334.2l4.0 4.0l-4.0 4.0l-4.0 -4.0z"/>
<path d="M190.0 337.1l4.0 4.0l-4.0 4.0l-4.0 -4.0z"/>
<path d="M195.8 334.2l4.0 4.0l-4.0 4.0l-4.0 -4.0z"/>
<path d="M199.1 336.7l4.0 4.0l-4.0 4.0l-4.0 -4.0z"/>
<path d="M204.6 335.5l4.0 4.0l-4.0 4.0l-4.0 -4.0z"/>
<path d="M212.9 335.8l4.0 4.0l-4.0 4.0l-4.0 -4.0z"/>
<path d="M185.0 341.7l4.0 4.0l-4.0 4.0l-4.0 -4.0z"/>
<path d="M195.0 343.6l4.0 4.0l-4.0 4.0l-4.0 -4.0z"/>
<path d="M202.6 341.3l4.0 4.0l-4.0 4.0l-4.0 -4.0z"/>
<path d="M208.9 342.4l4.0 4.0l-4.0 4.0l-4.0 -4.0z"/>
<path d="M214.9 340.7l4.0 4.0l-4.0 4.0l-4.0 -4.0z"/>
<path d="M217.6 340.0l4.0 4.0l-4.0 4.0l-4.0 -4.0z"/>
<path d="M200.4 345.2l4.0 4.0l-4.0 4.0l-4.0 -4.0z"/>
<path d="M203.3 342.3l4.0 4.0l-4.0 4.0l-4.0 -4.0z"/>
<path d="M183.7 347.0l4.0 4.0l-4.0 4.0l-4.0 -4.0z"/>
<path d="M195.7 349.3l4.0 4.0l-4.0 4.0l-4.0 -4.0z"/>
<path d="M213.2 345.3l4.0 4.0l-4.0 4.0l-4.0 -4.0z"/>
<path d="M187.6 351.6l4.0 4.0l-4.0 4.0l-4.0 -4.0z"/>
<path d="M190.6 299.2l4.0 4.0l-4.0 4.0l-4.0 -4.0z"/>
<path d="M208.0 300.2l4.0 4.0l-4.0 4.0l-4.0 -4.0z"/>
<path d="M194.7 305.3l4.0 4.0l-4.0 4.0l-4.0 -4.0z"/>
<path d="M212.1 309.0l4.0 4.0l-4.0 4.0l-4.0 -4.0z"/>
<path d="M205.9 303.3l4.0 4.0l-4.0 4.0l-4.0 -4.0z"/>
<path d="M175.6 329.5l4.0 4.0l-4.0 4.0l-4.0 -4.0z"/>
<path d="M226.4 322.7l4.0 4.0l-4.0 4.0l-4.0 -4.0z"/>
<path d="M232.5 333.0l4.0 4.0l-4.0 4.0l-4.0 -4.0z"/>
<path d="M228.9 336.4l4.0 4.0l-4.0 4.0l-4.0 -4.0z"/>
<path d="M230.9 346.3l4.0 4.0l-4.0 4.0l-4.0 -4.0z"/>
<path d="M198.8 356.9l4.0 4.0l-4.0 4.0l-4.0 -4.0z"/>
<path d="M213.1 356.9l4.0 4.0l-4.0 4.0l-4.0 -4.0z"/>
<path d="M211.1 366.7l4.0 4.0l-4.0 4.0l-4.0 -4.0z"/>
<path d="M180.4 353.4l4.0 4.0l-4.0 4.0l-4.0 -4.0z"/>
<path d="M184.4 351.4l4.0 4.0l-4.0 4.0l-4.0 -4.0z"/>
<path d="M213.1 346.3l4.0 4.0l-4.0 4.0l-4.0 -4.0z"/>
<path d="M216.2 340.1l4.0 4.0l-4.0 4.0l-4.0 -4.0z"/>
<path d="M227.2 322.7l4.0 4.0l-4.0 4.0l-4.0 -4.0z"/>
<path d="M253.1 312.5l4.0 4.0l-4.0 4.0l-4.0 -4.0z"/>
<path d="M253.1 318.0l4.0 4.0l-4.0 4.0l-4.0 -4.0z"/>
<path d="M246.2 322.7l4.0 4.0l-4.0 4.0l-4.0 -4.0z"/>
<path d="M244.1 324.8l4.0 4.0l-4.0 4.0l-4.0 -4.0z"/>
<path d="M258.5 322.1l4.0 4.0l-4.0 4.0l-4.0 -4.0z"/>
<path d="M265.0 323.3l4.0 4.0l-4.0 4.0l-4.0 -4.0z"/>
<path d="M251.7 327.4l4.0 4.0l-4.0 4.0l-4.0 -4.0z"/>
<path d="M256.4 325.8l4.0 4.0l-4.0 4.0l-4.0 -4.0z"/>
<path d="M232.7 333.4l4.0 4.0l-4.0 4.0l-4.0 -4.0z"/>
<path d="M229.2 336.4l4.0 4.0l-4.0 4.0l-4.0 -4.0z"/>
<path d="M238.0 336.4l4.0 4.0l-4.0 4.0l-4.0 -4.0z"/>
<path d="M254.8 332.9l4.0 4.0l-4.0 4.0l-4.0 -4.0z"/>
<path d="M250.3 336.0l4.0 4.0l-4.0 4.0l-4.0 -4.0z"/>
<path d="M260.9 336.4l4.0 4.0l-4.0 4.0l-4.0 -4.0z"/>
<path d="M253.1 340.5l4.0 4.0l-4.0 4.0l-4.0 -4.0z"/>
<path d="M231.3 346.7l4.0 4.0l-4.0 4.0l-4.0 -4.0z"/>
<path d="M249.1 353.8l4.0 4.0l-4.0 4.0l-4.0 -4.0z"/>
<path d="M194.4 305.3l4.0 4.0l-4.0 4.0l-4.0 -4.0z"/>
<path d="M211.7 308.9l4.0 4.0l-4.0 4.0l-4.0 -4.0z"/>
<path d="M185.7 311.8l4.0 4.0l-4.0 4.0l-4.0 -4.0z"/>
<path d="M203.1 311.8l4.0 4.0l-4.0 4.0l-4.0 -4.0z"/>
<path d="M183.6 314.7l4.0 4.0l-4.0 4.0l-4.0 -4.0z"/>
<path d="M190.8 315.5l4.0 4.0l-4.0 4.0l-4.0 -4.0z"/>
<path d="M198.0 314.7l4.0 4.0l-4.0 4.0l-4.0 -4.0z"/>
<path d="M206.7 315.5l4.0 4.0l-4.0 4.0l-4.0 -4.0z"/>
<path d="M185.7 319.1l4.0 4.0l-4.0 4.0l-4.0 -4.0z"/>
<path d="M191.5 319.8l4.0 4.0l-4.0 4.0l-4.0 -4.0z"/>
<path d="M199.5 319.8l4.0 4.0l-4.0 4.0l-4.0 -4.0z"/>
<path d="M206.7 319.1l4.0 4.0l-4.0 4.0l-4.0 -4.0z"/>
<path d="M213.2 319.1l4.0 4.0l-4.0 4.0l-4.0 -4.0z"/>
<path d="M182.8 324.1l4.0 4.0l-4.0 4.0l-4.0 -4.0z"/>
<path d="M188.6 323.4l4.0 4.0l-4.0 4.0l-4.0 -4.0z"/>
<path d="M195.1 324.1l4.0 4.0l-4.0 4.0l-4.0 -4.0z"/>
<path d="M202.3 323.4l4.0 4.0l-4.0 4.0l-4.0 -4.0z"/>
<path d="M209.6 323.4l4.0 4.0l-4.0 4.0l-4.0 -4.0z"/>
<path d="M215.4 323.4l4.0 4.0l-4.0 4.0l-4.0 -4.0z"/>
<path d="M182.1 327.0l4.0 4.0l-4.0 4.0l-4.0 -4.0z"/>
<path d="M186.5 328.5l4.0 4.0l-4.0 4.0l-4.0 -4.0z"/>
<path d="M192.2 327.7l4.0 4.0l-4.0 4.0l-4.0 -4.0z"/>
<path d="M198.7 327.7l4.0 4.0l-4.0 4.0l-4.0 -4.0z"/>
<path d="M205.2 327.7l4.0 4.0l-4.0 4.0l-4.0 -4.0z"/>
<path d="M211.0 328.5l4.0 4.0l-4.0 4.0l-4.0 -4.0z"/>
<path d="M216.8 327.7l4.0 4.0l-4.0 4.0l-4.0 -4.0z"/>
<path d="M185.0 332.1l4.0 4.0l-4.0 4.0l-4.0 -4.0z"/>
<path d="M190.8 332.1l4.0 4.0l-4.0 4.0l-4.0 -4.0z"/>
<path d="M196.6 332.8l4.0 4.0l-4.0 4.0l-4.0 -4.0z"/>
<path d="M202.3 332.1l4.0 4.0l-4.0 4.0l-4.0 -4.0z"/>
<path d="M208.1 332.1l4.0 4.0l-4.0 4.0l-4.0 -4.0z"/>
<path d="M213.2 332.1l4.0 4.0l-4.0 4.0l-4.0 -4.0z"/>
<path d="M184.3 336.4l4.0 4.0l-4.0 4.0l-4.0 -4.0z"/>
<path d="M190.1 337.1l4.0 4.0l-4.0 4.0l-4.0 -4.0z"/>
<path d="M195.8 336.4l4.0 4.0l-4.0 4.0l-4.0 -4.0z"/>
<path d="M200.9 337.1l4.0 4.0l-4.0 4.0l-4.0 -4.0z"/>
<path d="M206.7 336.4l4.0 4.0l-4.0 4.0l-4.0 -4.0z"/>
<path d="M212.5 335.7l4.0 4.0l-4.0 4.0l-4.0 -4.0z"/>
<path d="M184.3 340.7l4.0 4.0l-4.0 4.0l-4.0 -4.0z"/>
<path d="M189.3 341.5l4.0 4.0l-4.0 4.0l-4.0 -4.0z"/>
<path d="M195.8 341.5l4.0 4.0l-4.0 4.0l-4.0 -4.0z"/>
<path d="M201.6 340.7l4.0 4.0l-4.0 4.0l-4.0 -4.0z"/>
<path d="M207.4 340.7l4.0 4.0l-4.0 4.0l-4.0 -4.0z"/>
<path d="M213.9 339.3l4.0 4.0l-4.0 4.0l-4.0 -4.0z"/>
<path d="M217.5 340.0l4.0 4.0l-4.0 4.0l-4.0 -4.0z"/>
<path d="M183.6 345.1l4.0 4.0l-4.0 4.0l-4.0 -4.0z"/>
<path d="M188.6 345.8l4.0 4.0l-4.0 4.0l-4.0 -4.0z"/>
<path d="M193.7 345.1l4.0 4.0l-4.0 4.0l-4.0 -4.0z"/>
<path d="M198.7 344.4l4.0 4.0l-4.0 4.0l-4.0 -4.0z"/>
<path d="M204.5 344.4l4.0 4.0l-4.0 4.0l-4.0 -4.0z"/>
<path d="M184.3 348.7l4.0 4.0l-4.0 4.0l-4.0 -4.0z"/>
<path d="M189.3 349.4l4.0 4.0l-4.0 4.0l-4.0 -4.0z"/>
<path d="M195.1 348.7l4.0 4.0l-4.0 4.0l-4.0 -4.0z"/>
<path d="M213.2 347.5l4.0 4.0l-4.0 4.0l-4.0 -4.0z"/>
<path d="M181.4 352.3l4.0 4.0l-4.0 4.0l-4.0 -4.0z"/>
<path d="M186.5 351.6l4.0 4.0l-4.0 4.0l-4.0 -4.0z"/>
<path d="M180.7 354.5l4.0 4.0l-4.0 4.0l-4.0 -4.0z"/>
</g>
</g>
<g id="dots">
<line x1="192.22" y1="150.80" x2="192.22" y2="300.20" stroke="#000" stroke-width="1.8" stroke-dasharray="1.7 1.7"/>
<line x1="147.40" y1="195.62" x2="296.80" y2="195.62" stroke="#000" stroke-width="1.8" stroke-dasharray="1.7 1.7"/>
<line x1="251.98" y1="150.80" x2="251.98" y2="300.20" stroke="#000" stroke-width="1.8" stroke-dasharray="1.7 1.7"/>
<line x1="147.40" y1="255.38" x2="296.80" y2="255.38" stroke="#000" stroke-width="1.8" stroke-dasharray="1.7 1.7"/>
</g>
<g id="frames" fill="none" stroke="#000" stroke-width="2.0" stroke-linejoin="miter">
<line x1="147.4" y1="150.8" x2="147.4" y2="300.20000000000005" stroke="#484848" stroke-width="1.7"/>
<polyline points="146.4,150.8 296.8,150.8 296.8,300.20 146.4,300.20"/>
<rect x="296.8" y="150.8" width="224.00" height="149.4"/>
<rect x="147.4" y="300.20000000000005" width="149.4" height="74.30"/>
<polyline stroke-linejoin="bevel" stroke-width="2.1" points="147.4,150.8 222.10,20.80 296.8,150.8"/>
<polyline stroke-linejoin="bevel" stroke-width="2.1" points="147.4,150.8 17.40,225.50 147.4,300.20000000000005"/>
</g>
<g id="ticks">
<line x1="162.34" y1="124.80" x2="169.94" y2="124.80" stroke="#000" stroke-width="2.1" />
<line x1="237.04" y1="46.80" x2="233.24" y2="53.38" stroke="#000" stroke-width="2.1" />
<line x1="43.40" y1="210.56" x2="49.98" y2="214.36" stroke="#000" stroke-width="2.1" />
<line x1="43.40" y1="240.44" x2="43.40" y2="232.84" stroke="#000" stroke-width="2.1" />
<line x1="177.28" y1="374.50" x2="177.28" y2="366.90" stroke="#000" stroke-width="2.1" />
<line x1="520.80" y1="180.68" x2="513.20" y2="180.68" stroke="#000" stroke-width="2.1" />
<line x1="177.28" y1="98.80" x2="184.88" y2="98.80" stroke="#000" stroke-width="2.1" />
<line x1="251.98" y1="72.80" x2="248.18" y2="79.38" stroke="#000" stroke-width="2.1" />
<line x1="69.40" y1="195.62" x2="75.98" y2="199.42" stroke="#000" stroke-width="2.1" />
<line x1="69.40" y1="255.38" x2="69.40" y2="247.78" stroke="#000" stroke-width="2.1" />
<line x1="207.16" y1="374.50" x2="207.16" y2="366.90" stroke="#000" stroke-width="2.1" />
<line x1="520.80" y1="210.56" x2="513.20" y2="210.56" stroke="#000" stroke-width="2.1" />
<line x1="192.22" y1="72.80" x2="199.82" y2="72.80" stroke="#000" stroke-width="2.1" />
<line x1="266.92" y1="98.80" x2="263.12" y2="105.38" stroke="#000" stroke-width="2.1" />
<line x1="95.40" y1="180.68" x2="101.98" y2="184.48" stroke="#000" stroke-width="2.1" />
<line x1="95.40" y1="270.32" x2="95.40" y2="262.72" stroke="#000" stroke-width="2.1" />
<line x1="237.04" y1="374.50" x2="237.04" y2="366.90" stroke="#000" stroke-width="2.1" />
<line x1="520.80" y1="240.44" x2="513.20" y2="240.44" stroke="#000" stroke-width="2.1" />
<line x1="207.16" y1="46.80" x2="214.76" y2="46.80" stroke="#000" stroke-width="2.1" />
<line x1="281.86" y1="124.80" x2="278.06" y2="131.38" stroke="#000" stroke-width="2.1" />
<line x1="121.40" y1="165.74" x2="127.98" y2="169.54" stroke="#000" stroke-width="2.1" />
<line x1="121.40" y1="285.26" x2="121.40" y2="277.66" stroke="#000" stroke-width="2.1" />
<line x1="266.92" y1="374.50" x2="266.92" y2="366.90" stroke="#000" stroke-width="2.1" />
<line x1="520.80" y1="270.32" x2="513.20" y2="270.32" stroke="#000" stroke-width="2.1" />
<line x1="321.69" y1="300.20" x2="321.69" y2="292.60" stroke="#000" stroke-width="2.1" />
<line x1="371.47" y1="300.20" x2="371.47" y2="292.60" stroke="#000" stroke-width="2.1" />
<line x1="421.24" y1="300.20" x2="421.24" y2="292.60" stroke="#000" stroke-width="2.1" />
<line x1="471.02" y1="300.20" x2="471.02" y2="292.60" stroke="#000" stroke-width="2.1" />
<line x1="147.40" y1="341.00" x2="155.00" y2="341.00" stroke="#4a4a4a" stroke-width="2.1" />
<line x1="147.40" y1="368.20" x2="155.00" y2="368.20" stroke="#4a4a4a" stroke-width="2.1" />
</g>
<g id="ticklabels">
<text x="153.04" y="124.70" font-size="14.5" text-anchor="middle" >20</text>
<text x="245.54" y="46.50" font-size="14.5" text-anchor="middle" >20</text>
<text x="38.70" y="207.56" font-size="14.5" text-anchor="middle" >20</text>
<text x="38.90" y="251.94" font-size="14.5" text-anchor="middle" >80</text>
<text x="167.98" y="98.70" font-size="14.5" text-anchor="middle" >40</text>
<text x="260.48" y="72.50" font-size="14.5" text-anchor="middle" >40</text>
<text x="64.70" y="192.62" font-size="14.5" text-anchor="middle" >40</text>
<text x="64.90" y="266.88" font-size="14.5" text-anchor="middle" >60</text>
<text x="182.92" y="72.70" font-size="14.5" text-anchor="middle" >60</text>
<text x="275.42" y="98.50" font-size="14.5" text-anchor="middle" >60</text>
<text x="90.70" y="177.68" font-size="14.5" text-anchor="middle" >60</text>
<text x="90.90" y="281.82" font-size="14.5" text-anchor="middle" >40</text>
<text x="197.86" y="46.70" font-size="14.5" text-anchor="middle" >80</text>
<text x="290.36" y="124.50" font-size="14.5" text-anchor="middle" >80</text>
<text x="116.70" y="162.74" font-size="14.5" text-anchor="middle" >80</text>
<text x="116.90" y="296.76" font-size="14.5" text-anchor="middle" >20</text>
<text x="146.90" y="388.00" font-size="14.5" text-anchor="middle" >100</text>
<text x="176.78" y="388.00" font-size="14.5" text-anchor="middle" >80</text>
<text x="206.66" y="388.00" font-size="14.5" text-anchor="middle" >60</text>
<text x="236.54" y="388.00" font-size="14.5" text-anchor="middle" >40</text>
<text x="266.42" y="388.00" font-size="14.5" text-anchor="middle" >20</text>
<text x="296.30" y="388.00" font-size="14.5" text-anchor="middle" >0</text>
<text x="213.50" y="20.80" font-size="14.5" text-anchor="middle" >100</text>
<text x="142.30" y="148.00" font-size="14.5" text-anchor="middle" >100</text>
<text x="296.00" y="150.00" font-size="14.5" text-anchor="start" >100</text>
<text x="12.80" y="237.00" font-size="14.5" text-anchor="middle" >100</text>
<text x="321.39" y="314.60" font-size="15" text-anchor="middle" >400</text>
<text x="371.17" y="314.60" font-size="15" text-anchor="middle" >800</text>
<text x="420.94" y="314.60" font-size="15" text-anchor="middle" >1200</text>
<text x="470.72" y="314.60" font-size="15" text-anchor="middle" >1600</text>
<text x="519.30" y="314.60" font-size="15" text-anchor="middle" >2000</text>
<text x="143.00" y="345.70" font-size="14.5" text-anchor="end" >7.2</text>
<text x="142.50" y="372.90" font-size="14.5" text-anchor="end" >8</text>
</g>
<g id="titles">
<text x="162.50" y="74.00" font-size="19.5" text-anchor="middle" transform="rotate(-60 162.50 74.00)" >SO<tspan font-size="12" dy="4">4</tspan><tspan font-size="12" dy="-8.7" dx="-1.2">2-</tspan></text>
<text x="254.00" y="28.70" font-size="18.2" text-anchor="start" transform="rotate(60 254.00 28.70)" >HCO<tspan font-size="10.5" dy="4">3</tspan><tspan font-size="10.5" dy="-10">-</tspan><tspan dy="6">+CO</tspan><tspan font-size="10.5" dy="5.2" dx="0.3">3</tspan><tspan font-size="10.5" dy="-9.6" dx="1.2">2-</tspan></text>
<text x="72.20" y="169.40" font-size="19" text-anchor="middle" transform="rotate(-30 72.20 169.40)" >Ca<tspan font-size="12" dy="-5">2+</tspan></text>
<text x="66.40" y="292.80" font-size="20" text-anchor="middle" transform="rotate(30 66.40 292.80)" >Mg<tspan font-size="12" dy="-5">2+</tspan></text>
<text x="96.00" y="336.40" font-size="18" text-anchor="middle" transform="rotate(-90 96.00 336.40)" >pH</text>
<text x="222.00" y="407.00" font-size="17.3" text-anchor="middle" >Cl<tspan font-size="10" dy="-5.5">-</tspan></text>
<text x="408.70" y="334.50" font-size="18.3" text-anchor="middle" >TDS (ppm)</text>
<text x="541.00" y="225.60" font-size="18" text-anchor="middle" transform="rotate(-90 541.00 225.60)" >Na<tspan font-size="11" dy="-7">+</tspan><tspan dy="7">+K</tspan><tspan font-size="11" dy="-7">+</tspan></text>
</g>
<g id="arrows" fill="#fd0d0d" stroke="none">
<polygon points="173.60,265.60 173.60,193.50 177.00,193.50 171.50,183.00 166.00,193.50 169.40,193.50 169.40,265.60"/>
<polygon points="273.50,184.00 273.50,255.10 270.10,255.10 275.60,265.60 281.10,255.10 277.70,255.10 277.70,184.00"/>
<polygon points="191.69,256.88 255.12,201.14 257.37,203.69 262.00,192.30 250.11,195.43 252.35,197.98 188.91,253.72"/>
</g>
<g id="notes">
<text x="162.50" y="228.00" font-size="15" text-anchor="middle" transform="rotate(-90 162.50 228.00)" >Ion exchange</text>
<text x="283.50" y="226.00" font-size="15" text-anchor="middle" transform="rotate(90 283.50 226.00)" >Reverse ion exchange</text>
<text x="228.50" y="216.00" font-size="11" text-anchor="middle" transform="rotate(-41.7 228.50 216.00)" >Mixing/Dissolution</text>
</g>
</svg>
</body>
</html>
